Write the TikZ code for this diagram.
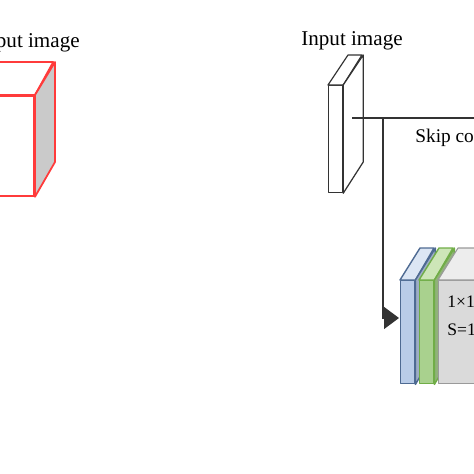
\documentclass[tikz,border=0pt]{standalone}
\usepackage{fontspec}
\setmainfont{Liberation Serif}
\usetikzlibrary{arrows.meta,positioning,calc}
\definecolor{cubered}{HTML}{FF3B3B}
\definecolor{cubeside}{HTML}{CACACA}
\definecolor{bnfill}{HTML}{B9CCE8}
\definecolor{bntop}{HTML}{DCE6F4}
\definecolor{bnline}{HTML}{4E6A92}
\definecolor{relufill}{HTML}{A9D18E}
\definecolor{relutop}{HTML}{CDE6B8}
\definecolor{reluline}{HTML}{70AD47}
\definecolor{convfill}{HTML}{DADADA}
\definecolor{convtop}{HTML}{EDEDED}
\definecolor{convline}{HTML}{9A9A9A}

\begin{document}
\begin{tikzpicture}[x=0.02cm,y=-0.02cm,
  redface/.style={draw=cubered,line width=1pt,line join=round},
  slab/.style={draw=black!80,line width=0.7pt,fill=white,line join=round},
  bnface/.style={draw=bnline,line width=0.8pt,line join=round},
  reluface/.style={draw=reluline,line width=0.8pt,line join=round},
  convface/.style={draw=convline,line width=0.6pt,line join=round},
  conn/.style={draw=black!80,line width=0.7pt},
  caption/.style={font=\fontsize{12}{14}\selectfont,inner sep=0pt},
  convtext/.style={font=\fontsize{10}{12}\selectfont,inner sep=0pt,anchor=base west}]
  \useasboundingbox (0,0) rectangle (474,474);
  \clip (0,0) rectangle (474,474);

  % input cube
  \node[redface,fill=white,minimum width=0.02cm*160,minimum height=0.02cm*100,anchor=north east] (cube) at (35,95) {};
  \draw[redface,fill=white] (cube.north west) -- ++(20,-33) -- ++(160,0) -- (cube.north east) -- cycle;
  \draw[redface,fill=cubeside] (cube.north east) -- ++(20,-33) -- ++(0,100) -- (cube.south east) -- cycle;
  \node[caption,anchor=base east] (cubelabel) at (80,47) {Input image};

  % input slab
  \node[slab,minimum width=0.02cm*14,minimum height=0.02cm*107,anchor=north west] (img) at (328,85) {};
  \draw[slab] (img.north west) -- ++(20,-30) -- ++(14,0) -- (img.north east) -- cycle;
  \draw[slab] (img.north east) -- ++(20,-30) -- ++(0,107) -- (img.south east) -- cycle;
  \node[caption,anchor=base] (imglabel) at (352,45) {Input image};

  % skip connection
  \coordinate (skipstart) at (352,118);
  \coordinate (skipend) at (490,118);
  \coordinate (branch) at (383,118);
  \coordinate (convin) at (399,318);
  \draw[conn] (skipstart) -- (skipend);
  \draw[conn,-{Triangle[length=0.3cm,width=0.44cm]}] (branch) |- (convin);
  \node[font=\fontsize{11}{13}\selectfont,inner sep=0pt,anchor=base west] (skiplabel) at (415,142) {Skip connection};

  % batch norm
  \node[bnface,fill=bnfill,minimum width=0.02cm*14,minimum height=0.02cm*103,anchor=north west] (bn) at (400,280) {};
  \draw[bnface,fill=bntop] (bn.north west) -- ++(20,-32) -- ++(14,0) -- (bn.north east) -- cycle;
  \draw[bnface,fill=bnfill!85!black] (bn.north east) -- ++(20,-32) -- ++(0,103) -- (bn.south east) -- cycle;

  % relu
  \node[reluface,fill=relufill,minimum width=0.02cm*14,minimum height=0.02cm*103,anchor=north west] (relu) at (419,280) {};
  \draw[reluface,fill=relutop] (relu.north west) -- ++(20,-32) -- ++(14,0) -- (relu.north east) -- cycle;
  \draw[reluface,fill=relufill!85!black] (relu.north east) -- ++(20,-32) -- ++(0,103) -- (relu.south east) -- cycle;

  % conv
  \node[convface,fill=convfill,minimum width=0.02cm*120,minimum height=0.02cm*103,anchor=north west] (conv) at (438,280) {};
  \draw[convface,fill=convtop] (conv.north west) -- ++(20,-32) -- ++(120,0) -- (conv.north east) -- cycle;
  \node[convtext] (convsize) at (447,307) {1×1 Conv};
  \node[convtext] (convstride) at (447,335) {S=1};
\end{tikzpicture}
\end{document}
